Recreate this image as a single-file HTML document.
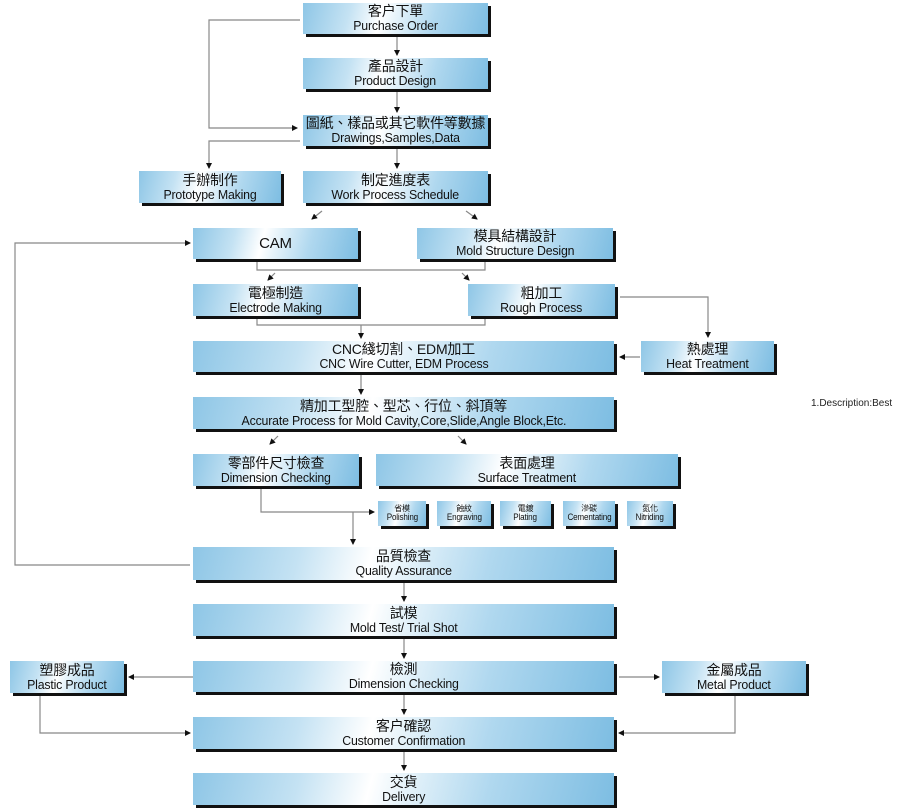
<!DOCTYPE html>
<html><head><meta charset="utf-8"><style>
html,body{margin:0;padding:0;background:#fff;width:923px;height:811px;overflow:hidden;position:relative;font-family:"Liberation Sans","Noto Sans CJK TC",sans-serif;}
.b{position:absolute;box-sizing:border-box;background:linear-gradient(105deg,#8ec6e6 0%,#c4e2f3 25%,#ffffff 42%,#e6f3fa 50%,#b0d8ef 70%,#7dbde2 100%);box-shadow:3px 3px 0 #111;text-align:center;color:#111;line-height:1.05;display:flex;flex-direction:column;justify-content:center;align-items:center;letter-spacing:-0.2px}
.b .c{font-size:14px}
.b .e{font-size:13px;transform:scaleX(0.95)}
.s .c{font-size:8px}.s .e{font-size:9px;transform:scaleX(0.9)}
svg{position:absolute;left:0;top:0}
</style></head><body>
<svg width="923" height="811">
<defs><marker id="a" markerWidth="6" markerHeight="6" refX="5" refY="3" orient="auto" markerUnits="userSpaceOnUse"><path d="M0,0 L6,3 L0,6z" fill="#111"/></marker></defs>
<g stroke="#888" stroke-width="1.2" fill="none">
<path d="M397,37 V55" marker-end="url(#a)"/>
<path d="M397,92 V112" marker-end="url(#a)"/>
<path d="M397,149 V168" marker-end="url(#a)"/>
<path d="M300,20 H209 V128 H297" marker-end="url(#a)"/>
<path d="M300,141 H209 V168" marker-end="url(#a)"/>
<path d="M322,211 L312,219" marker-end="url(#a)"/>
<path d="M466,211 L477,219" marker-end="url(#a)"/>
<path d="M257,262 V270 H485 V262"/>
<path d="M275,273 L268,280" marker-end="url(#a)"/>
<path d="M462,273 L469,280" marker-end="url(#a)"/>
<path d="M257,319 V325 H485 V319"/>
<path d="M361,325 V338" marker-end="url(#a)"/>
<path d="M620,297 H624 H708 V337" marker-end="url(#a)"/>
<path d="M640,357 H620" marker-end="url(#a)"/>
<path d="M361,375 V394" marker-end="url(#a)"/>
<path d="M278,436 L270,444" marker-end="url(#a)"/>
<path d="M458,436 L466,444" marker-end="url(#a)"/>
<path d="M261,489 V512 H374" marker-end="url(#a)"/>
<path d="M353,512 V544" marker-end="url(#a)"/>
<path d="M190,565 H15 V243 H190" marker-end="url(#a)"/>
<path d="M404,583 V601" marker-end="url(#a)"/>
<path d="M404,639 V658" marker-end="url(#a)"/>
<path d="M193,677 H129" marker-end="url(#a)"/>
<path d="M619,677 H659" marker-end="url(#a)"/>
<path d="M404,695 V714" marker-end="url(#a)"/>
<path d="M40,696 V733 H190" marker-end="url(#a)"/>
<path d="M735,696 V733 H619" marker-end="url(#a)"/>
<path d="M404,752 V770" marker-end="url(#a)"/>
</g></svg>

<div class="b" style="left:303px;top:3px;width:185px;height:31px"><div class="c">客户下單</div><div class="e">Purchase Order</div></div>
<div class="b" style="left:303px;top:58px;width:185px;height:31px"><div class="c">產品設計</div><div class="e">Product Design</div></div>
<div class="b" style="left:303px;top:115px;width:185px;height:31px"><div class="c">圖紙、樣品或其它軟件等數據</div><div class="e">Drawings,Samples,Data</div></div>
<div class="b" style="left:139px;top:171px;width:142px;height:32px"><div class="c">手辦制作</div><div class="e">Prototype Making</div></div>
<div class="b" style="left:303px;top:171px;width:185px;height:32px"><div class="c">制定進度表</div><div class="e">Work Process Schedule</div></div>
<div class="b" style="left:193px;top:228px;width:165px;height:31px"><div class="c" style="font-size:15px">CAM</div></div>
<div class="b" style="left:417px;top:228px;width:196px;height:31px"><div class="c">模具結構設計</div><div class="e">Mold Structure Design</div></div>
<div class="b" style="left:193px;top:284px;width:165px;height:32px"><div class="c">電極制造</div><div class="e">Electrode Making</div></div>
<div class="b" style="left:468px;top:284px;width:147px;height:32px"><div class="c">粗加工</div><div class="e">Rough Process</div></div>
<div class="b" style="left:193px;top:341px;width:421px;height:31px"><div class="c">CNC綫切割、EDM加工</div><div class="e">CNC Wire Cutter, EDM Process</div></div>
<div class="b" style="left:641px;top:341px;width:133px;height:31px"><div class="c">熱處理</div><div class="e">Heat Treatment</div></div>
<div class="b" style="left:193px;top:397px;width:421px;height:32px"><div class="c">精加工型腔、型芯、行位、斜頂等</div><div class="e">Accurate Process for Mold Cavity,Core,Slide,Angle Block,Etc.</div></div>
<div class="b" style="left:193px;top:454px;width:166px;height:32px"><div class="c">零部件尺寸檢查</div><div class="e">Dimension Checking</div></div>
<div class="b" style="left:376px;top:454px;width:302px;height:32px"><div class="c">表面處理</div><div class="e">Surface Treatment</div></div>
<div class="b s" style="left:378px;top:501px;width:48px;height:25px"><div class="c">省模</div><div class="e">Polishing</div></div>
<div class="b s" style="left:437px;top:501px;width:54px;height:25px"><div class="c">蝕紋</div><div class="e">Engraving</div></div>
<div class="b s" style="left:500px;top:501px;width:51px;height:25px"><div class="c">電鍍</div><div class="e">Plating</div></div>
<div class="b s" style="left:563px;top:501px;width:52px;height:25px"><div class="c">滲碳</div><div class="e">Cementating</div></div>
<div class="b s" style="left:627px;top:501px;width:46px;height:25px"><div class="c">氮化</div><div class="e">Nitriding</div></div>
<div class="b" style="left:193px;top:547px;width:421px;height:33px"><div class="c">品質檢查</div><div class="e">Quality Assurance</div></div>
<div class="b" style="left:193px;top:604px;width:421px;height:32px"><div class="c">試模</div><div class="e">Mold Test/ Trial Shot</div></div>
<div class="b" style="left:193px;top:661px;width:421px;height:31px"><div class="c">檢測</div><div class="e">Dimension Checking</div></div>
<div class="b" style="left:10px;top:661px;width:114px;height:32px"><div class="c">塑膠成品</div><div class="e">Plastic Product</div></div>
<div class="b" style="left:662px;top:661px;width:144px;height:32px"><div class="c">金屬成品</div><div class="e">Metal Product</div></div>
<div class="b" style="left:193px;top:717px;width:421px;height:32px"><div class="c">客户確認</div><div class="e">Customer Confirmation</div></div>
<div class="b" style="left:193px;top:773px;width:421px;height:32px"><div class="c">交貨</div><div class="e">Delivery</div></div>
<div style="position:absolute;left:811px;top:398px;font-size:10px;color:#222">1.Description:Best</div>
</body></html>
